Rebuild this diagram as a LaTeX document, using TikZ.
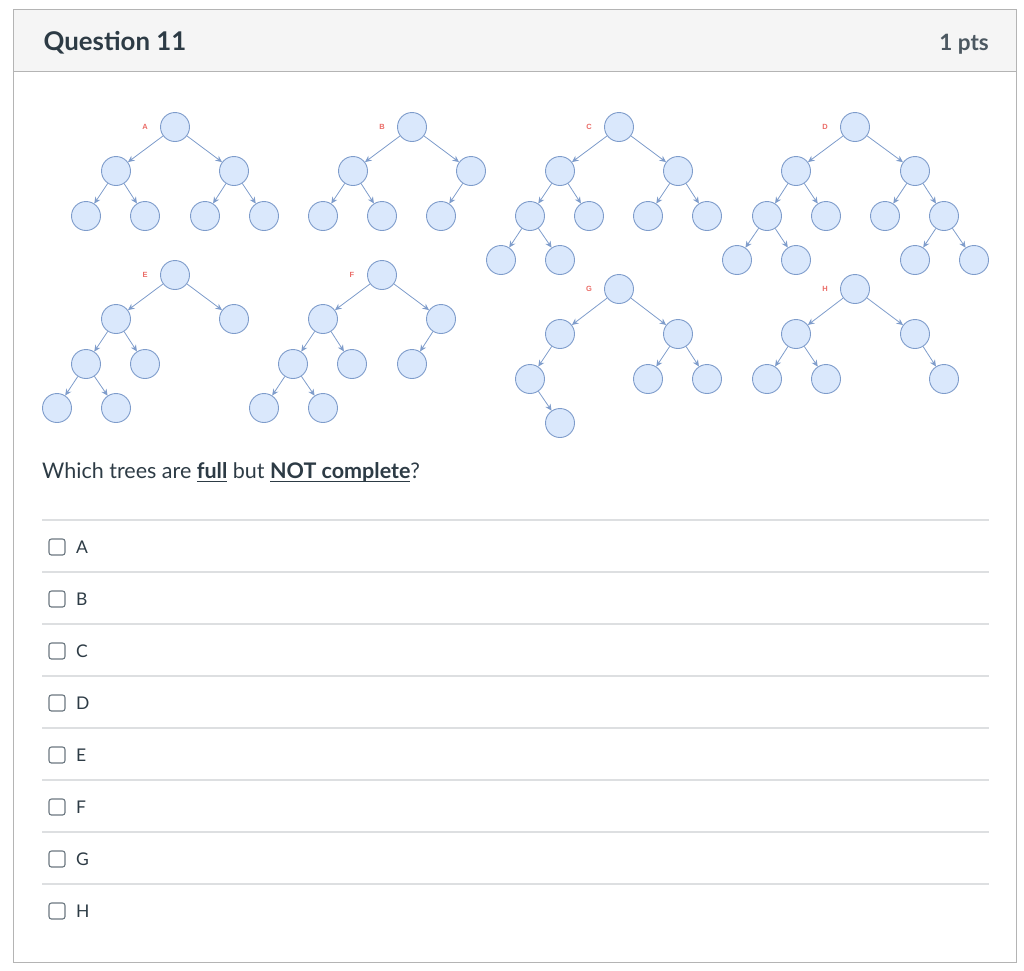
\documentclass[tikz,border=0pt]{standalone}
\usepackage{fontspec}
\setmainfont{Lato}
\newfontfamily\arialfont{Liberation Sans}
\usetikzlibrary{arrows.meta}
\newcommand\qul[1]{\setbox0=\hbox{#1}\rlap{\rule[-4pt]{\wd0}{1.5pt}}\box0\relax}
\definecolor{nodefill}{HTML}{DAE8FC}
\definecolor{nodeline}{HTML}{7E9CCB}
\definecolor{lbl}{HTML}{EA6B66}
\definecolor{txt}{HTML}{2D3B45}
\definecolor{hdrfill}{HTML}{F5F5F5}
\definecolor{framec}{HTML}{B4B4B4}
\definecolor{sepc}{HTML}{DDDFE1}
\definecolor{chkc}{HTML}{6B7780}
\begin{document}
\begin{tikzpicture}[x=1pt,y=-1pt,
  tn/.style={circle,draw=nodeline,fill=nodefill,line width=0.9pt,minimum size=29pt,inner sep=0pt},
  edge/.style={draw=nodeline,line width=0.8pt,-{Stealth[length=6.5pt,width=6pt]}},
  tlabel/.style={text=lbl,font=\arialfont\bfseries\fontsize{7.5}{8}\selectfont,inner sep=0pt},
  chk/.style={draw=chkc,line width=1.1pt,rounded corners=2.5pt,minimum width=16pt,minimum height=16pt,inner sep=0pt},
  opt/.style={anchor=west,text=txt,font=\fontsize{17.5}{20}\selectfont,inner sep=0pt},
  sepline/.style={draw=sepc,line width=1.3pt}]
\useasboundingbox (0,0) rectangle (1024,970);
% frame and header
\fill[hdrfill] (13.5,9.5) rectangle (1016.5,71);
\draw[framec,line width=1pt] (13.5,71) -- (1016.5,71);
\draw[framec,line width=1.3pt] (13.5,9.5) rectangle (1016.5,962.5);
\node[anchor=base west,text=txt,font=\bfseries\fontsize{25.8}{28}\selectfont,inner sep=0pt] (qtitle) at (43.5,50.5) {Question 11};
\node[anchor=base east,text=txt!85,font=\bfseries\fontsize{22.5}{26}\selectfont,inner sep=0pt] (pts) at (989,50.5) {1 pts};

% Tree A
\node[tlabel] (la) at (145,127) {A};
\node[tn] (a0) at (175,127) {};
\node[tn] (a1) at (116,171) {};
\node[tn] (a2) at (234,171) {};
\node[tn] (a3) at (86,216) {};
\node[tn] (a4) at (145,216) {};
\node[tn] (a5) at (205,216) {};
\node[tn] (a6) at (264,216) {};
\draw[edge] (a0) -- (a1); \draw[edge] (a0) -- (a2);
\draw[edge] (a1) -- (a3); \draw[edge] (a1) -- (a4);
\draw[edge] (a2) -- (a5); \draw[edge] (a2) -- (a6);

% Tree B
\node[tlabel] (lb) at (382,127) {B};
\node[tn] (b0) at (412,127) {};
\node[tn] (b1) at (353,171) {};
\node[tn] (b2) at (471,171) {};
\node[tn] (b3) at (323,216) {};
\node[tn] (b4) at (382,216) {};
\node[tn] (b5) at (441,216) {};
\draw[edge] (b0) -- (b1); \draw[edge] (b0) -- (b2);
\draw[edge] (b1) -- (b3); \draw[edge] (b1) -- (b4);
\draw[edge] (b2) -- (b5);

% Tree C
\node[tlabel] (lc) at (589,127) {C};
\node[tn] (c0) at (619,127) {};
\node[tn] (c1) at (560,171) {};
\node[tn] (c2) at (678,171) {};
\node[tn] (c3) at (530,216) {};
\node[tn] (c4) at (589,216) {};
\node[tn] (c5) at (648,216) {};
\node[tn] (c6) at (707,216) {};
\node[tn] (c7) at (501,260) {};
\node[tn] (c8) at (560,260) {};
\draw[edge] (c0) -- (c1); \draw[edge] (c0) -- (c2);
\draw[edge] (c1) -- (c3); \draw[edge] (c1) -- (c4);
\draw[edge] (c2) -- (c5); \draw[edge] (c2) -- (c6);
\draw[edge] (c3) -- (c7); \draw[edge] (c3) -- (c8);

% Tree D
\node[tlabel] (ld) at (825,127) {D};
\node[tn] (d0) at (855,127) {};
\node[tn] (d1) at (796,171) {};
\node[tn] (d2) at (915,171) {};
\node[tn] (d3) at (767,216) {};
\node[tn] (d4) at (826,216) {};
\node[tn] (d5) at (885,216) {};
\node[tn] (d6) at (944,216) {};
\node[tn] (d7) at (737,260) {};
\node[tn] (d8) at (796,260) {};
\node[tn] (d9) at (915,260) {};
\node[tn] (d10) at (974,260) {};
\draw[edge] (d0) -- (d1); \draw[edge] (d0) -- (d2);
\draw[edge] (d1) -- (d3); \draw[edge] (d1) -- (d4);
\draw[edge] (d2) -- (d5); \draw[edge] (d2) -- (d6);
\draw[edge] (d3) -- (d7); \draw[edge] (d3) -- (d8);
\draw[edge] (d6) -- (d9); \draw[edge] (d6) -- (d10);

% Tree E
\node[tlabel] (le) at (145,275) {E};
\node[tn] (e0) at (175,275) {};
\node[tn] (e1) at (116,319) {};
\node[tn] (e2) at (234,319) {};
\node[tn] (e3) at (86,364) {};
\node[tn] (e4) at (145,364) {};
\node[tn] (e5) at (57,408) {};
\node[tn] (e6) at (116,408) {};
\draw[edge] (e0) -- (e1); \draw[edge] (e0) -- (e2);
\draw[edge] (e1) -- (e3); \draw[edge] (e1) -- (e4);
\draw[edge] (e3) -- (e5); \draw[edge] (e3) -- (e6);

% Tree F
\node[tlabel] (lf) at (352,275) {F};
\node[tn] (f0) at (382,275) {};
\node[tn] (f1) at (323,319) {};
\node[tn] (f2) at (441,319) {};
\node[tn] (f3) at (293,364) {};
\node[tn] (f4) at (352,364) {};
\node[tn] (f5) at (412,364) {};
\node[tn] (f6) at (264,408) {};
\node[tn] (f7) at (323,408) {};
\draw[edge] (f0) -- (f1); \draw[edge] (f0) -- (f2);
\draw[edge] (f1) -- (f3); \draw[edge] (f1) -- (f4);
\draw[edge] (f2) -- (f5);
\draw[edge] (f3) -- (f6); \draw[edge] (f3) -- (f7);

% Tree G
\node[tlabel] (lg) at (589,289) {G};
\node[tn] (g0) at (619,289) {};
\node[tn] (g1) at (560,334) {};
\node[tn] (g2) at (678,334) {};
\node[tn] (g3) at (530,379) {};
\node[tn] (g4) at (648,379) {};
\node[tn] (g5) at (707,379) {};
\node[tn] (g6) at (560,423) {};
\draw[edge] (g0) -- (g1); \draw[edge] (g0) -- (g2);
\draw[edge] (g1) -- (g3);
\draw[edge] (g2) -- (g4); \draw[edge] (g2) -- (g5);
\draw[edge] (g3) -- (g6);

% Tree H
\node[tlabel] (lh) at (825,289) {H};
\node[tn] (h0) at (855,289) {};
\node[tn] (h1) at (796,334) {};
\node[tn] (h2) at (915,334) {};
\node[tn] (h3) at (767,379) {};
\node[tn] (h4) at (826,379) {};
\node[tn] (h5) at (944,379) {};
\draw[edge] (h0) -- (h1); \draw[edge] (h0) -- (h2);
\draw[edge] (h1) -- (h3); \draw[edge] (h1) -- (h4);
\draw[edge] (h2) -- (h5);

% Question
\node[anchor=base west,text=txt,font=\fontsize{21.5}{25}\selectfont,inner sep=0pt] (qtext) at (42,478)
  {Which trees are \qul{\textbf{full}} but \qul{\textbf{NOT complete}}?};

% options
\foreach \i/\l in {0/A,1/B,2/C,3/D,4/E,5/F,6/G,7/H}{
  \draw[sepline] (42,520+52*\i) -- (989,520+52*\i);
  \node[chk] (cb\l) at (57,547+52*\i) {};
  \node[opt] (op\l) at (76,547+52*\i) {\l};
}
\end{tikzpicture}
\end{document}
